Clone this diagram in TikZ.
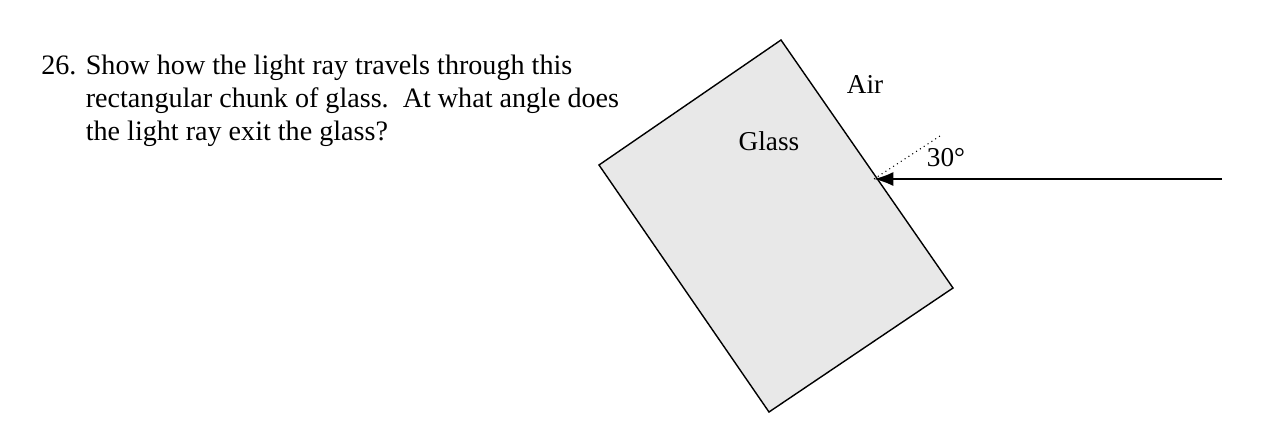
\documentclass[tikz,border=0pt]{standalone}
\usepackage{fontspec}
\setmainfont{Liberation Serif}
\usetikzlibrary{arrows.meta}
\begin{document}
\begin{tikzpicture}[x=0.02cm,y=-0.02cm,lbl/.style={font=\fontsize{15.5}{18}\selectfont,inner sep=0pt}]
\useasboundingbox (0,0) rectangle (1276,430);
\coordinate (t) at (781,40);
\coordinate (l) at (599,165);
\coordinate (b) at (769,412);
\coordinate (r) at (953,288);
\draw[fill=black!9,line width=0.8pt] (t) -- (l) -- (b) -- (r) -- cycle;
\coordinate (hit) at (874,179);
\coordinate (src) at (1222,179);
\coordinate (n) at (940,136);
\draw[dotted,line width=0.6pt] (hit) -- (n);
\draw[line width=1.1pt,-{Latex[length=11pt,width=8pt]}] (src) -- (hit);
\node[lbl] (air) at (865,84) {Air};
\node[lbl] (glass) at (769,141) {Glass};
\node[lbl] (ang) at (946,158) {30°};
\node[lbl,anchor=north west,align=left,font=\fontsize{16}{18.7}\selectfont] (q) at (41,55) {26. Show how the light ray travels through this\\
\phantom{26. }rectangular chunk of glass.\ \ At what angle does\\
\phantom{26. }the light ray exit the glass?};
\end{tikzpicture}
\end{document}
